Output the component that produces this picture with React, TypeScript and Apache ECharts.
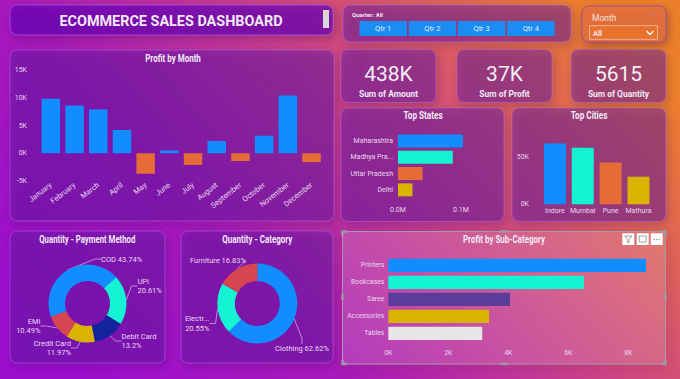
import React, { useEffect, useRef } from "react";
import * as echarts from "echarts";

const months = ["January", "February", "March", "April", "May", "June", "July", "August", "September", "October", "November", "December"];
const monthProfit = [9800, 8600, 7900, 4200, -3700, 500, -2100, 2200, -1400, 3150, 10400, -1600];
const states = ["Maharashtra", "Madhya Pradesh", "Uttar Pradesh", "Delhi"];
const stateAmount = [103000, 87000, 39000, 23000];
const cities = ["Indore", "Mumbai", "Pune", "Mathura"];
const cityAmount = [64000, 59500, 44000, 29000];
const paymentMethods = ["COD", "UPI", "Debit Card", "Credit Card", "EMI"];
const paymentQty = [2456, 1157, 741, 672, 589];
const categories = ["Clothing", "Electronics", "Furniture"];
const categoryQty = [3516, 1154, 945];
const subCategories = ["Printers", "Bookcases", "Saree", "Accessories", "Tables"];
const subCategoryProfit = [8590, 6520, 4060, 3360, 3130];
const kpiValues = ["438K", "37K", "5615"];
const kpiLabels = ["Sum of Amount", "Sum of Profit", "Sum of Quantity"];
const quarters = ["Qtr 1", "Qtr 2", "Qtr 3", "Qtr 4"];

const BLUE = "#118dff";
const CYAN = "#14f3d4";
const ORANGE = "#e66c37";
const YELLOW = "#d9b300";
const NAVY = "#12239e";
const RED = "#d64550";
const PURPLE = "#5a3d9a";
const LIGHT = "#e6e6e6";
const FONT = "Roboto, 'Noto Sans', sans-serif";
const LABEL = "#e8d8ef";

// label placement (layout only) for donut labels, by slice index
const paymentLabelPos = [
  { x: 101, y: 259, align: "left" },
  { x: 137.5, y: 286, align: "left" },
  { x: 121.5, y: 341, align: "left" },
  { x: 71, y: 348, align: "right" },
  { x: 40.5, y: 326, align: "right" },
];
const categoryLabelPos = [
  { x: 275, y: 348.7, align: "left" },
  { x: 209.5, y: 323.5, align: "right" },
  { x: 190, y: 260.3, align: "left" },
];

const panel = (x: number, y: number, w: number, h: number, fill = "rgba(95,25,165,0.42)", stroke = "rgba(170,110,230,0.45)") => ({
  type: "rect",
  shape: { x, y, width: w, height: h, r: 7 },
  style: { fill, stroke, lineWidth: 1, shadowBlur: 8, shadowOffsetX: 2, shadowOffsetY: 3, shadowColor: "rgba(40,0,60,0.45)" },
});

const text = (t: string, x: number, y: number, size: number, opts: any = {}) => ({
  type: "text",
  x,
  y,
  scaleX: opts.scaleX ?? 1,
  style: {
    text: t,
    fill: opts.fill ?? "#f2e8f6",
    fontSize: size,
    fontWeight: opts.weight ?? "bold",
    fontFamily: FONT,
    align: opts.align ?? "center",
    verticalAlign: "middle",
  },
});

const pct = (v: number, arr: number[]) => {
  const total = arr.reduce((a, b) => a + b, 0);
  return String(Number(((v / total) * 100).toFixed(2)));
};

export default function App() {
  const ref = useRef<HTMLDivElement>(null);
  useEffect(() => {
    const chart = echarts.init(ref.current!, null, { renderer: "svg" });

    const kpiX = [341, 457, 571];
    const graphic: any[] = [
      panel(10, 5, 323, 30, "rgba(100,10,185,0.62)", "rgba(170,90,240,0.6)"),
      { type: "rect", shape: { x: 323, y: 10, width: 6, height: 18 }, style: { fill: "#d8d8d8" } },
      text("ECOMMERCE SALES DASHBOARD", 171, 21, 15.5, { scaleX: 0.93 }),
      panel(343, 5, 228, 37),
      text("Quarter: All", 352, 14.5, 6, { align: "left" }),
      ...quarters.flatMap((q, i) => [
        { type: "rect", shape: { x: 359.5 + i * 49.2, y: 21, width: 47.5, height: 15 }, style: { fill: "#1a8cf2" } },
        text(q, 359.5 + i * 49.2 + 23.7, 28.5, 7.5, { weight: "normal", fill: "#e6eeff" }),
      ]),
      panel(582, 6, 84, 36, "rgba(232,112,62,0.75)", "rgba(140,70,170,0.75)"),
      text("Month", 592, 17.5, 8.5, { align: "left", weight: "normal", fill: "#f2e2dc" }),
      { type: "polyline", shape: { points: [[648.5, 13.5], [651.5, 16.5], [654.5, 13.5]] }, style: { stroke: "#b88890", lineWidth: 1, fill: null } },
      { type: "rect", shape: { x: 589.5, y: 25.7, width: 68, height: 13.6 }, style: { fill: "#e8712c", stroke: "#f4b090", lineWidth: 1 } },
      text("All", 593, 33, 7.5, { align: "left" }),
      { type: "polyline", shape: { points: [[646.5, 31], [650, 34.5], [653.5, 31]] }, style: { stroke: "#ffffff", lineWidth: 1.3, fill: null } },

      panel(10, 50, 324, 171),
      text("Profit by Month", 173, 58.3, 10, { scaleX: 0.8 }),

      ...kpiX.flatMap((x, i) => [
        panel(x, 49.5, 95, 53),
        text(kpiValues[i], x + 47.5, 74, 21, { weight: "normal", fill: "#f4eef6" }),
        text(kpiLabels[i], x + 47.5, 94, 9.6, { scaleX: 0.88 }),
      ]),

      panel(341, 108, 163, 113.5),
      text("Top States", 423, 116, 10, { scaleX: 0.82 }),
      panel(512, 108, 154, 113.5),
      text("Top Cities", 589, 115.3, 10, { scaleX: 0.82 }),

      panel(10, 231, 155, 132),
      text("Quantity - Payment Method", 87.3, 239.7, 10, { scaleX: 0.78 }),
      panel(181, 231, 152, 132),
      text("Quantity - Category", 257.3, 239.7, 10, { scaleX: 0.8 }),

      {
        type: "rect",
        shape: { x: 342.5, y: 231.5, width: 323, height: 132.5 },
        style: { fill: "rgba(255,255,255,0.12)", stroke: "#a49cab", lineWidth: 1, shadowBlur: 8, shadowOffsetX: 2, shadowOffsetY: 3, shadowColor: "rgba(60,0,40,0.4)" },
      },
      text("Profit by Sub-Category", 504, 240, 10, { scaleX: 0.8 }),
      ...[
        [[342.5, 236], [342.5, 231.5], [347, 231.5]],
        [[661, 231.5], [665.5, 231.5], [665.5, 236]],
        [[342.5, 359.5], [342.5, 364], [347, 364]],
        [[661, 364], [665.5, 364], [665.5, 359.5]],
        [[500, 231.5], [508, 231.5]],
        [[500, 364], [508, 364]],
        [[342.5, 294], [342.5, 300]],
        [[665.5, 294], [665.5, 300]],
      ].map((pts) => ({ type: "polyline", shape: { points: pts }, style: { stroke: "#9c98a4", lineWidth: 2.5, fill: null } })),
      ...[622.3, 636.7, 650.7].map((x) => ({ type: "rect", shape: { x, y: 233.3, width: 12, height: 11.7 }, style: { fill: "#ffffff" } })),
      { type: "polygon", shape: { points: [[624.8, 236], [631.8, 236], [629, 239.5], [629, 242.5], [627.6, 242.5], [627.6, 239.5]] }, style: { fill: null, stroke: "#8a8a8a", lineWidth: 0.8 } },
      { type: "rect", shape: { x: 639.2, y: 236, width: 7, height: 6 }, style: { fill: null, stroke: "#8a8a8a", lineWidth: 0.8 } },
      text("···", 656.7, 239, 8, { weight: "bold", fill: "#707070" }),
    ];

    const axisLbl = { color: LABEL, fontSize: 7, fontFamily: FONT };
    const pieLabel = { color: LABEL, fontSize: 7.5, fontFamily: FONT, lineHeight: 9.5 };
    const pieLine = { length: 6, length2: 6, lineStyle: { color: "rgba(230,215,240,0.75)", width: 0.8 } };

    const option: any = {
      animation: false,
      backgroundColor: new echarts.graphic.LinearGradient(0, 0.75, 1, 0.25, [
        { offset: 0, color: "#9c0ecd" },
        { offset: 0.3, color: "#a818bb" },
        { offset: 0.5, color: "#c0329c" },
        { offset: 0.72, color: "#d75272" },
        { offset: 1, color: "#ee7f2a" },
      ]),
      graphic,
      grid: [
        { left: 39, top: 70, width: 284.4, height: 111 },
        { left: 398, top: 132.75, width: 69.3, height: 65.25 },
        { left: 541, top: 137.7, width: 111.4, height: 66.6 },
        { left: 388.3, top: 256.8, width: 270, height: 85 },
      ],
      xAxis: [
        {
          type: "category", gridIndex: 0, data: months, position: "bottom",
          axisLine: { show: false }, axisTick: { show: false },
          axisLabel: { ...axisLbl, fontSize: 7.5, rotate: 38, interval: 0, margin: 3 },
        },
        {
          type: "value", gridIndex: 1, min: 0, max: 110000, interval: 100000,
          splitLine: { show: false }, axisLine: { show: false }, axisTick: { show: false },
          axisLabel: { ...axisLbl, margin: 8, formatter: (v: number) => (v % 100000 === 0 ? (v / 1e6).toFixed(1) + "M" : "") },
        },
        {
          type: "category", gridIndex: 2, data: cities,
          axisLine: { show: false }, axisTick: { show: false },
          axisLabel: { ...axisLbl, interval: 0, margin: 3 },
        },
        {
          type: "value", gridIndex: 3, min: 0, max: 9000, interval: 2000,
          splitLine: { show: false }, axisLine: { show: false }, axisTick: { show: false },
          axisLabel: { ...axisLbl, margin: 8, formatter: (v: number) => (v % 2000 === 0 ? v / 1000 + "K" : "") },
        },
      ],
      yAxis: [
        {
          type: "value", gridIndex: 0, min: -5000, max: 15000, interval: 5000,
          splitLine: { show: false }, axisLine: { show: false }, axisTick: { show: false },
          axisLabel: { ...axisLbl, margin: 12, formatter: (v: number) => v / 1000 + "K" },
        },
        {
          type: "category", gridIndex: 1, data: states, inverse: true,
          axisLine: { show: false }, axisTick: { show: false },
          axisLabel: { ...axisLbl, margin: 5, interval: 0, formatter: (s: string) => (s.length > 13 ? s.slice(0, 10) + "..." : s) },
        },
        {
          type: "value", gridIndex: 2, min: 0, max: 70000, interval: 50000,
          splitLine: { show: false }, axisLine: { show: false }, axisTick: { show: false },
          axisLabel: { ...axisLbl, margin: 12, formatter: (v: number) => (v % 50000 === 0 ? v / 1000 + "K" : "") },
        },
        {
          type: "category", gridIndex: 3, data: subCategories, inverse: true,
          axisLine: { show: false }, axisTick: { show: false },
          axisLabel: { ...axisLbl, fontSize: 6.8, margin: 4, interval: 0 },
        },
      ],
      series: [
        {
          type: "bar", xAxisIndex: 0, yAxisIndex: 0, data: monthProfit, barWidth: "78%",
          itemStyle: { color: (p: any) => (p.value >= 0 ? BLUE : ORANGE) },
        },
        {
          type: "bar", xAxisIndex: 1, yAxisIndex: 1, data: stateAmount, barWidth: "80%",
          itemStyle: { color: (p: any) => [BLUE, CYAN, ORANGE, YELLOW][p.dataIndex] },
        },
        {
          type: "bar", xAxisIndex: 2, yAxisIndex: 2, data: cityAmount, barWidth: "79%",
          itemStyle: { color: (p: any) => [BLUE, CYAN, ORANGE, YELLOW][p.dataIndex] },
        },
        {
          type: "bar", xAxisIndex: 3, yAxisIndex: 3, data: subCategoryProfit, barWidth: "78%",
          itemStyle: { color: (p: any) => [BLUE, CYAN, PURPLE, YELLOW, LIGHT][p.dataIndex] },
        },
        {
          type: "pie", center: [87.5, 303.5], radius: [22.5, 39], startAngle: 200,
          data: paymentMethods.map((n, i) => ({ name: n, value: paymentQty[i] })),
          color: [BLUE, CYAN, NAVY, YELLOW, RED],
          label: {
            ...pieLabel,
            formatter: (p: any) => {
              const s = pct(p.value, paymentQty);
              return p.dataIndex === 0 ? `${p.name} ${s}%` : `${p.name}\n${s}%`;
            },
          },
          labelLine: pieLine,
          labelLayout: (p: any) => ({ ...paymentLabelPos[p.dataIndex], verticalAlign: "middle" }),
        },
        {
          type: "pie", center: [257.3, 303.5], radius: [22.5, 40], startAngle: 90,
          data: categories.map((n, i) => ({ name: n, value: categoryQty[i] })),
          color: [BLUE, CYAN, RED],
          label: {
            ...pieLabel,
            formatter: (p: any) => {
              const s = pct(p.value, categoryQty);
              return p.name.length > 9 ? `${p.name.slice(0, 6)}...\n${s}%` : `${p.name} ${s}%`;
            },
          },
          labelLine: pieLine,
          labelLayout: (p: any) => ({ ...categoryLabelPos[p.dataIndex], verticalAlign: "middle" }),
        },
      ],
    };
    chart.setOption(option);
    return () => chart.dispose();
  }, []);
  return <div ref={ref} style={{ position: "absolute", left: 0, top: 0, width: 680, height: 379 }} />;
}
